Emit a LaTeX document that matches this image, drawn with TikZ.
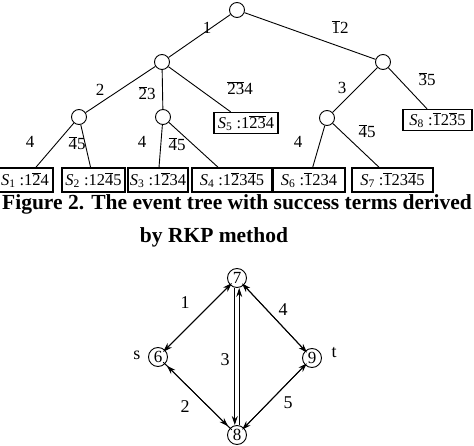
\documentclass[tikz,border=0pt]{standalone}
\usepackage{fontspec}
\setmainfont{Liberation Serif}
\usetikzlibrary{arrows.meta,calc}
\newcommand{\ob}[1]{$\overline{\mbox{#1}}$}
\newcommand{\Sx}[1]{\textit{S}\textsubscript{#1}}
\begin{document}
\begin{tikzpicture}[x=1pt,y=-1pt,
  tn/.style={circle,draw,minimum size=15pt,inner sep=0pt,line width=0.9pt},
  leaf/.style={draw,line width=1.4pt,inner sep=1pt,minimum height=24pt,font=\fontsize{16.5}{18}\selectfont},
  lab/.style={font=\fontsize{17}{19}\selectfont,inner sep=0pt},
  tedge/.style={line width=0.9pt},
  gn/.style={circle,draw,minimum size=19pt,inner sep=0pt,line width=0.9pt,font=\fontsize{17}{19}\selectfont},
  garr/.style={line width=0.9pt,-{Stealth[length=9pt,width=6pt]}},
  glab/.style={font=\fontsize{18}{20}\selectfont,inner sep=0pt}]
\useasboundingbox (0,0) rectangle (474,446);
% tree nodes
\node[tn] (R) at (237,10) {};
\node[tn] (A) at (162,62) {};
\node[tn] (B) at (383,62) {};
\node[tn] (C) at (79,117) {};
\node[tn] (D) at (163,117) {};
\node[tn] (E) at (327,118) {};
\node[leaf,minimum width=56pt] (S1) at (25,180) {\Sx{1} :1\ob{2}4};
\node[leaf,minimum width=63pt] (S2) at (93.5,180) {\Sx{2} :12\ob{4}5};
\node[leaf,minimum width=60pt] (S3) at (158,180) {\Sx{3} :1\ob{2}34};
\node[leaf,minimum width=80pt] (S4) at (232,180) {\Sx{4} :1\ob{2}3\ob{4}5};
\node[leaf,minimum width=72pt] (S6) at (309,180) {\Sx{6} :\ob{1}234};
\node[leaf,minimum width=81pt] (S7) at (392.5,180) {\Sx{7} :\ob{1}23\ob{4}5};
\node[leaf,minimum width=64pt,minimum height=21pt] (S5) at (246,123) {\Sx{5} :1\ob{23}4};
\node[leaf,minimum width=69pt,minimum height=21pt] (S8) at (437.5,120) {\Sx{8} :\ob{1}2\ob{3}5};
% tree edges
\draw[tedge] (R) -- (A);
\draw[tedge] (R) -- (B);
\draw[tedge] (A) -- (C);
\draw[tedge] (A) -- (D);
\draw[tedge] (A) -- (S5);
\draw[tedge] (B) -- (E);
\draw[tedge] (B) -- (S8);
\draw[tedge] (C) -- (S1);
\draw[tedge] (C) -- (S2);
\draw[tedge] (D) -- (S3);
\draw[tedge] (D) -- (S4);
\draw[tedge] (E) -- (S6);
\draw[tedge] (E) -- (S7);
% tree labels
\node[lab] (l1) at (207,28) {1};
\node[lab] (l2) at (340,27) {\ob{1}2};
\node[lab] (l3) at (100,90) {2};
\node[lab] (l4) at (147,93) {\ob{2}3};
\node[lab] (l5) at (240,88) {\ob{23}4};
\node[lab] (l6) at (342,88) {3};
\node[lab] (l7) at (427,79) {\ob{3}5};
\node[lab] (l8) at (30,142) {4};
\node[lab] (l9) at (77,143) {\ob{4}5};
\node[lab] (l10) at (142,142) {4};
\node[lab] (l11) at (177,144) {\ob{4}5};
\node[lab] (l12) at (298,142) {4};
\node[lab] (l13) at (367,131) {\ob{4}5};
% caption
\node[font=\fontsize{21.5}{24}\bfseries\selectfont,inner sep=0pt] (cap1) at (237,204) {Figure 2. The event tree with success terms derived};
\node[font=\fontsize{21.5}{24}\bfseries\selectfont,inner sep=0pt] (cap2) at (214,237) {by RKP method};
% graph
\node[gn] (n7) at (237,278) {7};
\node[gn] (n6) at (158,357) {6};
\node[gn] (n9) at (312,358) {9};
\node[gn] (n8) at (237,435) {8};
\draw[garr,transform canvas={shift={(-1.8pt,-1.8pt)}}] (n7) -- (n6);
\draw[garr,transform canvas={shift={(1.8pt,1.8pt)}}] (n6) -- (n7);
\draw[garr,transform canvas={shift={(1.8pt,-1.8pt)}}] (n7) -- (n9);
\draw[garr,transform canvas={shift={(-1.8pt,1.8pt)}}] (n9) -- (n7);
\draw[garr,transform canvas={shift={(-2.2pt,0pt)}}] (n7) -- (n8);
\draw[garr,transform canvas={shift={(2.2pt,0pt)}}] (n8) -- (n7);
\draw[garr,transform canvas={shift={(-1.8pt,1.8pt)}}] (n6) -- (n8);
\draw[garr,transform canvas={shift={(1.8pt,-1.8pt)}}] (n8) -- (n6);
\draw[garr,transform canvas={shift={(1.8pt,1.8pt)}}] (n8) -- (n9);
\draw[garr,transform canvas={shift={(-1.8pt,-1.8pt)}}] (n9) -- (n8);
\node[glab] (ls) at (137,355) {s};
\node[glab] (lt) at (334,353) {t};
\node[glab] (e1) at (185,303) {1};
\node[glab] (e4) at (283,310) {4};
\node[glab] (e3) at (225,360) {3};
\node[glab] (e2) at (185,407) {2};
\node[glab] (e5) at (288,403) {5};
\end{tikzpicture}
\end{document}
